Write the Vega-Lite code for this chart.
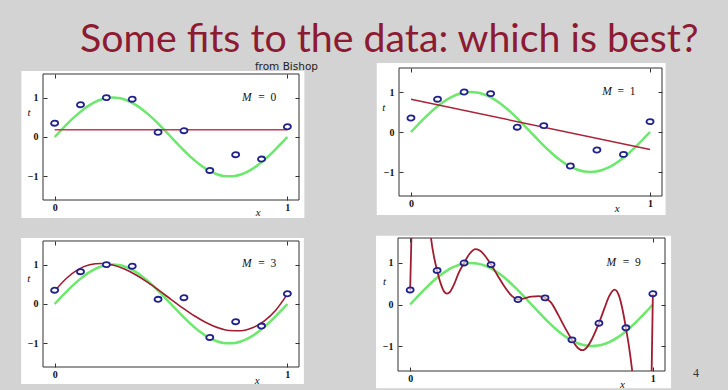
{
  "$schema": "https://vega.github.io/schema/vega-lite/v6.json",
  "background": "#d3d3d3",
  "padding": {"left": 21, "top": 20, "right": 28, "bottom": 1},
  "title": {
    "text": "Some fits to the data: which is best?",
    "font": "Lato",
    "fontSize": 39.3,
    "fontWeight": "normal",
    "color": "#8c1a32",
    "anchor": "start",
    "dx": 59,
    "offset": 2
  },
  "datasets": {
    "pts": [
      {"x": 0, "t": 0.35}, {"x": 0.1111, "t": 0.82}, {"x": 0.2222, "t": 1.0}, {"x": 0.3333, "t": 0.96},
      {"x": 0.4444, "t": 0.12}, {"x": 0.5556, "t": 0.16}, {"x": 0.6667, "t": -0.85}, {"x": 0.7778, "t": -0.45},
      {"x": 0.8889, "t": -0.56}, {"x": 1, "t": 0.26}
    ],
    "sine": [
      {"x": 0, "t": 0}, {"x": 0.025, "t": 0.156}, {"x": 0.05, "t": 0.309}, {"x": 0.075, "t": 0.454},
      {"x": 0.1, "t": 0.588}, {"x": 0.125, "t": 0.707}, {"x": 0.15, "t": 0.809}, {"x": 0.175, "t": 0.891},
      {"x": 0.2, "t": 0.951}, {"x": 0.225, "t": 0.988}, {"x": 0.25, "t": 1}, {"x": 0.275, "t": 0.988},
      {"x": 0.3, "t": 0.951}, {"x": 0.325, "t": 0.891}, {"x": 0.35, "t": 0.809}, {"x": 0.375, "t": 0.707},
      {"x": 0.4, "t": 0.588}, {"x": 0.425, "t": 0.454}, {"x": 0.45, "t": 0.309}, {"x": 0.475, "t": 0.156},
      {"x": 0.5, "t": 0}, {"x": 0.525, "t": -0.156}, {"x": 0.55, "t": -0.309}, {"x": 0.575, "t": -0.454},
      {"x": 0.6, "t": -0.588}, {"x": 0.625, "t": -0.707}, {"x": 0.65, "t": -0.809}, {"x": 0.675, "t": -0.891},
      {"x": 0.7, "t": -0.951}, {"x": 0.725, "t": -0.988}, {"x": 0.75, "t": -1}, {"x": 0.775, "t": -0.988},
      {"x": 0.8, "t": -0.951}, {"x": 0.825, "t": -0.891}, {"x": 0.85, "t": -0.809}, {"x": 0.875, "t": -0.707},
      {"x": 0.9, "t": -0.588}, {"x": 0.925, "t": -0.454}, {"x": 0.95, "t": -0.309}, {"x": 0.975, "t": -0.156},
      {"x": 1, "t": 0}
    ],
    "m0": [{"x": 0, "t": 0.184}, {"x": 1, "t": 0.184}],
    "m1": [{"x": 0, "t": 0.82}, {"x": 1, "t": -0.44}],
    "m3": [
      {"x": 0, "t": 0.33}, {"x": 0.05, "t": 0.648}, {"x": 0.1, "t": 0.872}, {"x": 0.15, "t": 0.995},
      {"x": 0.2, "t": 1.03}, {"x": 0.25, "t": 0.99}, {"x": 0.3, "t": 0.887}, {"x": 0.35, "t": 0.736},
      {"x": 0.4, "t": 0.549}, {"x": 0.45, "t": 0.339}, {"x": 0.5, "t": 0.119}, {"x": 0.55, "t": -0.098},
      {"x": 0.6, "t": -0.299}, {"x": 0.65, "t": -0.47}, {"x": 0.7, "t": -0.6}, {"x": 0.75, "t": -0.674},
      {"x": 0.8, "t": -0.68}, {"x": 0.85, "t": -0.604}, {"x": 0.9, "t": -0.435}, {"x": 0.95, "t": -0.158},
      {"x": 1, "t": 0.25}
    ],
    "m9": [
      {"x": 0, "t": 0.34}, {"x": 0.004, "t": 1.3}, {"x": 0.008, "t": 2.3}, {"x": 0.02, "t": 3.4},
      {"x": 0.045, "t": 3.9}, {"x": 0.07, "t": 2.7}, {"x": 0.086, "t": 1.6}, {"x": 0.1, "t": 1.1},
      {"x": 0.1111, "t": 0.82}, {"x": 0.125, "t": 0.52}, {"x": 0.14, "t": 0.31}, {"x": 0.152, "t": 0.26},
      {"x": 0.165, "t": 0.31}, {"x": 0.18, "t": 0.47}, {"x": 0.2, "t": 0.76}, {"x": 0.2222, "t": 1.0},
      {"x": 0.245, "t": 1.22}, {"x": 0.27, "t": 1.33}, {"x": 0.29, "t": 1.29}, {"x": 0.31, "t": 1.16},
      {"x": 0.3333, "t": 0.96}, {"x": 0.36, "t": 0.7}, {"x": 0.39, "t": 0.42}, {"x": 0.42, "t": 0.2},
      {"x": 0.4444, "t": 0.12}, {"x": 0.47, "t": 0.15}, {"x": 0.5, "t": 0.19}, {"x": 0.53, "t": 0.2},
      {"x": 0.5556, "t": 0.16}, {"x": 0.58, "t": 0.05}, {"x": 0.61, "t": -0.25}, {"x": 0.64, "t": -0.58},
      {"x": 0.6667, "t": -0.85}, {"x": 0.69, "t": -1.04}, {"x": 0.71, "t": -1.1}, {"x": 0.73, "t": -1.02},
      {"x": 0.75, "t": -0.82}, {"x": 0.7778, "t": -0.45}, {"x": 0.8, "t": -0.1}, {"x": 0.82, "t": 0.2},
      {"x": 0.842, "t": 0.36}, {"x": 0.86, "t": 0.22}, {"x": 0.875, "t": -0.12}, {"x": 0.8889, "t": -0.56},
      {"x": 0.9, "t": -0.95}, {"x": 0.915, "t": -1.6}, {"x": 0.93, "t": -2.4}, {"x": 0.96, "t": -3.2},
      {"x": 0.985, "t": -2.6}, {"x": 0.995, "t": -1.6}, {"x": 1, "t": 0.26}
    ]
  },
  "spacing": 17,
  "vconcat": [
    {
      "spacing": 58,
      "hconcat": [
        {
          "width": 256, "height": 132,
          "resolve": {"axis": {"x": "independent", "y": "independent"}},
          "layer": [
            {"data": {"values": [{}]}, "mark": {"type": "rect", "fill": "white", "clip": false},
             "encoding": {"x": {"datum": -0.143, "type": "quantitative", "scale": {"domain": [-0.05, 1.05], "nice": false, "zero": false}, "axis": null}, "x2": {"datum": 1.073},
                          "y": {"datum": 1.676, "type": "quantitative", "scale": {"domain": [-1.6, 1.752], "nice": false, "zero": false}, "axis": null}, "y2": {"datum": -2.057}}},
            {"data": {"values": [{}]}, "mark": {"type": "rect", "fillOpacity": 0, "stroke": "#333", "strokeWidth": 1, "clip": false},
             "encoding": {"x": {"datum": -0.05, "type": "quantitative", "axis": null}, "x2": {"datum": 1.05},
                          "y": {"datum": -1.6, "type": "quantitative", "axis": null}, "y2": {"datum": 1.6}}},
            {"data": {"name": "sine"}, "mark": {"type": "line", "color": "#6ce86c", "strokeWidth": 2.5, "interpolate": "monotone"},
             "encoding": {"x": {"field": "x", "type": "quantitative", "axis": {"values": [0, 1], "format": "d", "title": "x", "titleX": 214.6, "titleY": 12, "zindex": 1}},
                          "y": {"field": "t", "type": "quantitative", "axis": {"values": [-1, 0, 1], "format": "d", "title": "t", "titleX": -14.4, "titleY": 44.3, "zindex": 1}}}},
            {"data": {"name": "m0"}, "mark": {"type": "line", "color": "#c83850", "strokeWidth": 1.6},
             "encoding": {"x": {"field": "x", "type": "quantitative", "axis": null}, "y": {"field": "t", "type": "quantitative", "axis": null}}},
            {"data": {"name": "pts"}, "mark": {"type": "point", "shape": "M-1,0A1,0.72,0,1,1,1,0A1,0.72,0,1,1,-1,0Z", "size": 50, "filled": false, "fill": "white", "fillOpacity": 1, "stroke": "#22228c", "strokeWidth": 1.8, "opacity": 1},
             "encoding": {"x": {"field": "x", "type": "quantitative", "axis": {"orient": "top", "values": [0, 1], "labels": false, "title": null, "offset": -6, "zindex": 1}},
                          "y": {"field": "t", "type": "quantitative", "axis": {"orient": "right", "values": [-1, 0, 1], "labels": false, "title": null, "zindex": 1}}}},
            {"data": {"values": [{"label": "M"}]}, "mark": {"type": "text", "font": "Liberation Serif", "fontStyle": "italic", "fontSize": 11.5, "color": "#111"},
             "encoding": {"x": {"datum": 0.826, "type": "quantitative", "axis": null}, "y": {"datum": 1.0, "type": "quantitative", "axis": null}, "text": {"field": "label"}}},
            {"data": {"values": [{"label": "=\u20020"}]}, "mark": {"type": "text", "font": "Liberation Serif", "fontSize": 11.5, "color": "#111"},
             "encoding": {"x": {"datum": 0.914, "type": "quantitative", "axis": null}, "y": {"datum": 1.0, "type": "quantitative", "axis": null}, "text": {"field": "label"}}},
            {"data": {"values": [{"label": "from Bishop"}]}, "mark": {"type": "text", "font": "DejaVu Sans", "fontSize": 10.5, "color": "#222", "baseline": "alphabetic", "clip": false},
             "encoding": {"x": {"datum": 0.996, "type": "quantitative", "axis": null}, "y": {"datum": 1.70, "type": "quantitative", "axis": null}, "text": {"field": "label"}}}
          ]
        },
        {
          "width": 263, "height": 128,
          "resolve": {"axis": {"x": "independent", "y": "independent"}},
          "layer": [
            {"data": {"values": [{}]}, "mark": {"type": "rect", "fill": "white", "clip": false},
             "encoding": {"x": {"datum": -0.143, "type": "quantitative", "scale": {"domain": [-0.05, 1.05], "nice": false, "zero": false}, "axis": null}, "x2": {"datum": 1.065},
                          "y": {"datum": 1.725, "type": "quantitative", "scale": {"domain": [-1.6, 1.6], "nice": false, "zero": false}, "axis": null}, "y2": {"datum": -2.075}}},
            {"data": {"values": [{}]}, "mark": {"type": "rect", "fillOpacity": 0, "stroke": "#333", "strokeWidth": 1, "clip": false},
             "encoding": {"x": {"datum": -0.05, "type": "quantitative", "axis": null}, "x2": {"datum": 1.05},
                          "y": {"datum": -1.6, "type": "quantitative", "axis": null}, "y2": {"datum": 1.6}}},
            {"data": {"name": "sine"}, "mark": {"type": "line", "color": "#6ce86c", "strokeWidth": 2.5, "interpolate": "monotone"},
             "encoding": {"x": {"field": "x", "type": "quantitative", "axis": {"values": [0, 1], "format": "d", "title": "x", "titleX": 217.7, "titleY": 12.6, "zindex": 1}},
                          "y": {"field": "t", "type": "quantitative", "axis": {"values": [-1, 0, 1], "format": "d", "title": "t", "titleX": -15.6, "titleY": 39.3, "zindex": 1}}}},
            {"data": {"name": "m1"}, "mark": {"type": "line", "color": "#a82438", "strokeWidth": 1.5},
             "encoding": {"x": {"field": "x", "type": "quantitative", "axis": null}, "y": {"field": "t", "type": "quantitative", "axis": null}}},
            {"data": {"name": "pts"}, "mark": {"type": "point", "shape": "M-1,0A1,0.72,0,1,1,1,0A1,0.72,0,1,1,-1,0Z", "size": 50, "filled": false, "fill": "white", "fillOpacity": 1, "stroke": "#22228c", "strokeWidth": 1.8, "opacity": 1},
             "encoding": {"x": {"field": "x", "type": "quantitative", "axis": {"orient": "top", "values": [0, 1], "labels": false, "title": null, "zindex": 1}},
                          "y": {"field": "t", "type": "quantitative", "axis": {"orient": "right", "values": [-1, 0, 1], "labels": false, "title": null, "zindex": 1}}}},
            {"data": {"values": [{"label": "M"}]}, "mark": {"type": "text", "font": "Liberation Serif", "fontStyle": "italic", "fontSize": 11.5, "color": "#111"},
             "encoding": {"x": {"datum": 0.82, "type": "quantitative", "axis": null}, "y": {"datum": 0.99, "type": "quantitative", "axis": null}, "text": {"field": "label"}}},
            {"data": {"values": [{"label": "=\u20021"}]}, "mark": {"type": "text", "font": "Liberation Serif", "fontSize": 11.5, "color": "#111"},
             "encoding": {"x": {"datum": 0.902, "type": "quantitative", "axis": null}, "y": {"datum": 0.99, "type": "quantitative", "axis": null}, "text": {"field": "label"}}}
          ]
        }
      ]
    },
    {
      "spacing": 72,
      "hconcat": [
        {
          "width": 256, "height": 129,
          "resolve": {"axis": {"x": "independent", "y": "independent"}},
          "layer": [
            {"data": {"values": [{}]}, "mark": {"type": "rect", "fill": "white", "clip": false},
             "encoding": {"x": {"datum": -0.144, "type": "quantitative", "scale": {"domain": [-0.05, 1.05], "nice": false, "zero": false}, "axis": null}, "x2": {"datum": 1.071},
                          "y": {"datum": 1.676, "type": "quantitative", "scale": {"domain": [-1.6, 1.676], "nice": false, "zero": false}, "axis": null}, "y2": {"datum": -2.032}}},
            {"data": {"values": [{}]}, "mark": {"type": "rect", "fillOpacity": 0, "stroke": "#333", "strokeWidth": 1, "clip": false},
             "encoding": {"x": {"datum": -0.05, "type": "quantitative", "axis": null}, "x2": {"datum": 1.05},
                          "y": {"datum": -1.6, "type": "quantitative", "axis": null}, "y2": {"datum": 1.6}}},
            {"data": {"name": "sine"}, "mark": {"type": "line", "color": "#6ce86c", "strokeWidth": 2.5, "interpolate": "monotone"},
             "encoding": {"x": {"field": "x", "type": "quantitative", "axis": {"values": [0, 1], "format": "d", "title": "x", "titleX": 213.7, "titleY": 13, "zindex": 1}},
                          "y": {"field": "t", "type": "quantitative", "axis": {"values": [-1, 0, 1], "format": "d", "title": "t", "titleX": -14.7, "titleY": 40.3, "zindex": 1}}}},
            {"data": {"name": "m3"}, "mark": {"type": "line", "color": "#a01c30", "strokeWidth": 1.6, "interpolate": "monotone"},
             "encoding": {"x": {"field": "x", "type": "quantitative", "axis": null}, "y": {"field": "t", "type": "quantitative", "axis": null}}},
            {"data": {"name": "pts"}, "mark": {"type": "point", "shape": "M-1,0A1,0.72,0,1,1,1,0A1,0.72,0,1,1,-1,0Z", "size": 50, "filled": false, "fill": "white", "fillOpacity": 1, "stroke": "#22228c", "strokeWidth": 1.8, "opacity": 1},
             "encoding": {"x": {"field": "x", "type": "quantitative", "axis": {"orient": "top", "values": [0, 1], "labels": false, "title": null, "offset": -3, "zindex": 1}},
                          "y": {"field": "t", "type": "quantitative", "axis": {"orient": "right", "values": [-1, 0, 1], "labels": false, "title": null, "zindex": 1}}}},
            {"data": {"values": [{"label": "M"}]}, "mark": {"type": "text", "font": "Liberation Serif", "fontStyle": "italic", "fontSize": 11.5, "color": "#111"},
             "encoding": {"x": {"datum": 0.826, "type": "quantitative", "axis": null}, "y": {"datum": 1.008, "type": "quantitative", "axis": null}, "text": {"field": "label"}}},
            {"data": {"values": [{"label": "=\u20023"}]}, "mark": {"type": "text", "font": "Liberation Serif", "fontSize": 11.5, "color": "#111"},
             "encoding": {"x": {"datum": 0.914, "type": "quantitative", "axis": null}, "y": {"datum": 1.008, "type": "quantitative", "axis": null}, "text": {"field": "label"}}}
          ]
        },
        {
          "width": 267, "height": 133,
          "resolve": {"axis": {"x": "independent", "y": "independent"}},
          "layer": [
            {"data": {"values": [{}]}, "mark": {"type": "rect", "fill": "white", "clip": false},
             "encoding": {"x": {"datum": -0.1405, "type": "quantitative", "scale": {"domain": [-0.05, 1.05], "nice": false, "zero": false}, "axis": null}, "x2": {"datum": 1.075},
                          "y": {"datum": 1.652, "type": "quantitative", "scale": {"domain": [-1.6, 1.6], "nice": false, "zero": false}, "axis": null}, "y2": {"datum": -2.013}}},
            {"data": {"values": [{}]}, "mark": {"type": "rect", "fillOpacity": 0, "stroke": "#333", "strokeWidth": 1, "clip": false},
             "encoding": {"x": {"datum": -0.05, "type": "quantitative", "axis": null}, "x2": {"datum": 1.05},
                          "y": {"datum": -1.6, "type": "quantitative", "axis": null}, "y2": {"datum": 1.6}}},
            {"data": {"name": "sine"}, "mark": {"type": "line", "color": "#6ce86c", "strokeWidth": 2.5, "interpolate": "monotone"},
             "encoding": {"x": {"field": "x", "type": "quantitative", "axis": {"values": [0, 1], "format": "d", "title": "x", "titleX": 224, "titleY": 13.3, "zindex": 1}},
                          "y": {"field": "t", "type": "quantitative", "axis": {"values": [-1, 0, 1], "format": "d", "title": "t", "titleX": -14, "titleY": 43.7, "zindex": 1}}}},
            {"data": {"name": "m9"}, "mark": {"type": "line", "color": "#a01c30", "strokeWidth": 1.8, "interpolate": "monotone", "clip": true},
             "encoding": {"x": {"field": "x", "type": "quantitative", "axis": null}, "y": {"field": "t", "type": "quantitative", "axis": null}}},
            {"data": {"name": "pts"}, "mark": {"type": "point", "shape": "M-1,0A1,0.72,0,1,1,1,0A1,0.72,0,1,1,-1,0Z", "size": 50, "filled": false, "fill": "white", "fillOpacity": 0.6, "stroke": "#22228c", "strokeWidth": 1.8, "opacity": 1},
             "encoding": {"x": {"field": "x", "type": "quantitative", "axis": {"orient": "top", "values": [0, 1], "labels": false, "title": null, "zindex": 1}},
                          "y": {"field": "t", "type": "quantitative", "axis": {"orient": "right", "values": [-1, 0, 1], "labels": false, "title": null, "zindex": 1}}}},
            {"data": {"values": [{"label": "M"}]}, "mark": {"type": "text", "font": "Liberation Serif", "fontStyle": "italic", "fontSize": 11.5, "color": "#111"},
             "encoding": {"x": {"datum": 0.829, "type": "quantitative", "axis": null}, "y": {"datum": 0.99, "type": "quantitative", "axis": null}, "text": {"field": "label"}}},
            {"data": {"values": [{"label": "=\u20029"}]}, "mark": {"type": "text", "font": "Liberation Serif", "fontSize": 11.5, "color": "#111"},
             "encoding": {"x": {"datum": 0.913, "type": "quantitative", "axis": null}, "y": {"datum": 0.99, "type": "quantitative", "axis": null}, "text": {"field": "label"}}},
            {"data": {"values": [{"label": "4"}]}, "mark": {"type": "text", "font": "Liberation Serif", "fontSize": 12, "color": "#333", "clip": false},
             "encoding": {"x": {"datum": 1.178, "type": "quantitative", "axis": null}, "y": {"datum": -1.652, "type": "quantitative", "axis": null}, "text": {"field": "label"}}}
          ]
        }
      ]
    }
  ],
  "config": {
    "view": {"stroke": null},
    "axis": {
      "grid": false,
      "domain": false,
      "ticks": true,
      "tickSize": -4,
      "tickColor": "#333",
      "tickWidth": 1,
      "labelFont": "Liberation Serif",
      "labelFontSize": 10,
      "labelFontWeight": "bold",
      "labelColor": "#111",
      "labelFlush": false,
      "labelOverlap": false,
      "titleFont": "Liberation Serif",
      "titleFontStyle": "italic",
      "titleFontWeight": "normal",
      "titleFontSize": 11,
      "titleColor": "#111",
      "titleAlign": "center",
      "titleBaseline": "middle",
      "titleAngle": 0
    },
    "axisX": {"labelPadding": 6.5},
    "axisY": {"labelPadding": 9}
  }
}
